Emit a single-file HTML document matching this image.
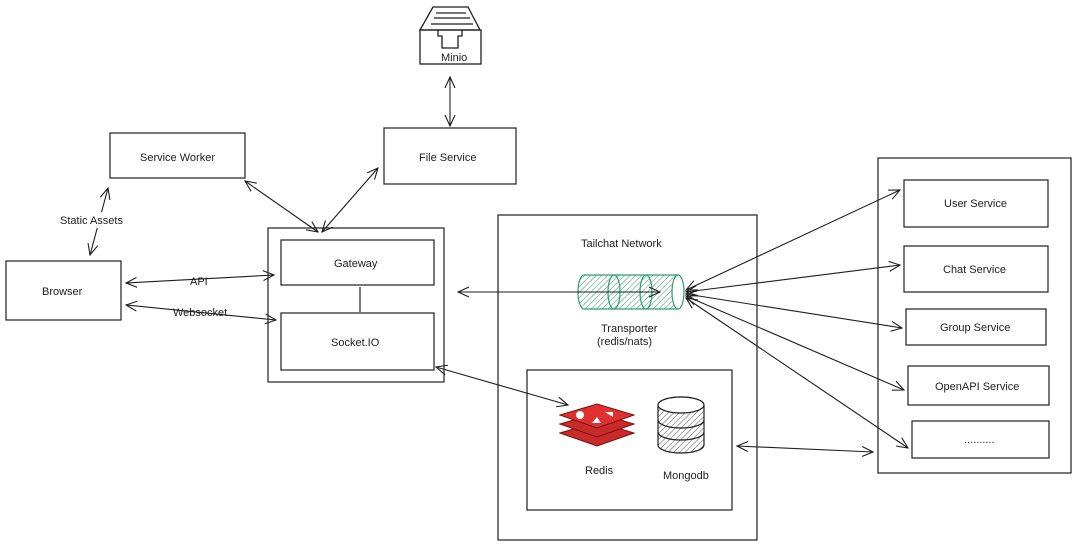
<!DOCTYPE html>
<html><head><meta charset="utf-8"><style>
html,body{margin:0;padding:0;background:#fff;}
svg{display:block;}
text{font-family:"Liberation Sans",sans-serif;font-size:11px;fill:#1e1e1e;}
</style></head><body>
<svg width="1080" height="548" viewBox="0 0 1080 548" xmlns="http://www.w3.org/2000/svg">
<defs>
<marker id="a" viewBox="0 0 12 12" refX="11" refY="6" markerWidth="12" markerHeight="12" orient="auto-start-reverse" markerUnits="userSpaceOnUse">
<path d="M0,1 L11,6 L0,11" fill="none" stroke="#1e1e1e" stroke-width="1.1"/></marker>
<pattern id="h" width="4" height="4" patternUnits="userSpaceOnUse" patternTransform="rotate(45)">
<line x1="0" y1="0" x2="0" y2="4" stroke="#2f9e6e" stroke-width="1"/></pattern>
<pattern id="g" width="4" height="4" patternUnits="userSpaceOnUse" patternTransform="rotate(45)">
<line x1="0" y1="0" x2="0" y2="4" stroke="#555" stroke-width="1"/></pattern>
</defs>
<g fill="none" stroke="#1e1e1e" stroke-width="1.2">
<rect x="110" y="133" width="135" height="45"/>
<rect x="384" y="128" width="132" height="56"/>
<rect x="6" y="261" width="115" height="59"/>
<rect x="268" y="228" width="176" height="154"/>
<rect x="281" y="240" width="153" height="45"/>
<rect x="281" y="313" width="153" height="57"/>
<line x1="360" y1="287" x2="360" y2="312"/>
<rect x="498" y="215" width="259" height="325"/>
<rect x="527" y="370" width="205" height="140"/>
<rect x="878" y="158" width="193" height="315"/>
<rect x="904" y="180" width="144" height="47"/>
<rect x="904" y="246" width="144" height="46"/>
<rect x="906" y="309" width="140" height="36"/>
<rect x="908" y="366" width="141" height="39"/>
<rect x="912" y="421" width="137" height="37"/>
</g>
<!-- minio -->
<g fill="none" stroke="#1e1e1e" stroke-width="1.3">
<path d="M433,7 L468,7 L480,30 L420,30 Z"/>
<line x1="436" y1="13" x2="466" y2="13"/><line x1="434" y1="18" x2="470" y2="18"/><line x1="431" y1="24" x2="473" y2="24"/>
<rect x="420" y="30" width="61" height="34"/>
<path d="M438,30 L438,36 L442,36 L442,48 L458,48 L458,36 L462,36 L462,30"/>
</g>
<text x="441" y="61" font-size="9">Minio</text>
<!-- cylinder -->
<g stroke="#2f9e6e" stroke-width="1.2">
<path d="M584,275 L678,275 L678,309 L584,309 A6,17 0 0 1 584,275 Z" fill="url(#h)"/>
<ellipse cx="614" cy="292" rx="6" ry="17" fill="none"/>
<ellipse cx="646" cy="292" rx="6" ry="17" fill="none"/>
<ellipse cx="678" cy="292" rx="6" ry="17" fill="#fff"/>
</g>
<!-- redis -->
<g stroke="#7a1010" stroke-width="1">
<path d="M560,433 L597,422 L634,433 L597,446 Z" fill="#c92a2a"/>
<path d="M560,424 L597,413 L634,424 L597,437 Z" fill="#c92a2a"/>
<path d="M560,415 L597,404 L634,415 L597,428 Z" fill="#e03131"/>
</g>
<circle cx="580" cy="415" r="4" fill="#fff"/>
<path d="M592,423 L597,417 L601,423 Z" fill="#fff"/>
<path d="M605,412 L613,412 L613,417 Z" fill="#fff"/>
<!-- mongo -->
<g stroke="#1e1e1e" stroke-width="1.2" fill="url(#g)">
<path d="M658,445 L658,405 A23,8 0 0 1 704,405 L704,445 A23,8 0 0 1 658,445 Z"/>
<path d="M658,420 A23,8 0 0 0 704,420" fill="none"/>
<path d="M658,432 A23,8 0 0 0 704,432" fill="none"/>
<ellipse cx="681" cy="405" rx="23" ry="8" fill="#fff"/>
</g>
<!-- arrows -->
<g fill="none" stroke="#1e1e1e" stroke-width="1.1" marker-start="url(#a)" marker-end="url(#a)">
<line x1="450" y1="77" x2="450" y2="126"/>
<line x1="108" y1="188" x2="90" y2="255"/>
<line x1="245" y1="181" x2="318" y2="232"/>
<line x1="378" y1="168" x2="322" y2="232"/>
<line x1="126" y1="283" x2="274" y2="275"/>
<line x1="126" y1="305" x2="276" y2="320"/>
<line x1="458" y1="292" x2="660" y2="292"/>
<line x1="436" y1="367" x2="568" y2="405"/>
<line x1="737" y1="446" x2="873" y2="452"/>
<line x1="686" y1="290" x2="900" y2="190"/>
<line x1="686" y1="292" x2="900" y2="265"/>
<line x1="686" y1="294" x2="902" y2="328"/>
<line x1="686" y1="296" x2="904" y2="390"/>
<line x1="686" y1="298" x2="908" y2="448"/>
</g>
<rect x="55" y="212" width="85" height="16" fill="#fff"/>
<text x="60" y="224">Static Assets</text>
<text x="190" y="285">API</text>
<text x="173" y="316">Websocket</text>
<text x="140" y="161">Service Worker</text>
<text x="419" y="161">File Service</text>
<text x="42" y="295">Browser</text>
<text x="334" y="267">Gateway</text>
<text x="331" y="346">Socket.IO</text>
<text x="581" y="247">Tailchat Network</text>
<text x="601" y="332">Transporter</text>
<text x="597" y="345">(redis/nats)</text>
<text x="585" y="474">Redis</text>
<text x="663" y="479">Mongodb</text>
<text x="944" y="207">User Service</text>
<text x="943" y="273">Chat Service</text>
<text x="940" y="331">Group Service</text>
<text x="935" y="390">OpenAPI Service</text>
<text x="964" y="443">..........</text>
</svg>
</body></html>
